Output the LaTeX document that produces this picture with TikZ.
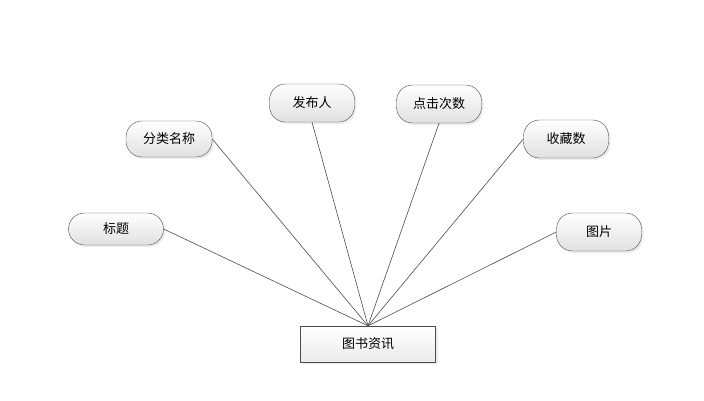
\documentclass[tikz,border=0pt]{standalone}
\usepackage{fontspec}
\setmainfont{Noto Sans CJK SC}
\usetikzlibrary{shadows}
\begin{document}
\begin{tikzpicture}[x=1pt,y=-1pt,
  pill/.style={draw=black!70,rounded corners=16pt,minimum width=88pt,minimum height=36pt,
    top color=white,bottom color=black!12,drop shadow={shadow xshift=2pt,shadow yshift=-2pt,fill=black!15},font=\fontsize{13pt}{15pt}\selectfont,inner sep=0pt},
  ent/.style={draw=black!70,minimum width=135pt,minimum height=36pt,top color=white,bottom color=black!8,
    drop shadow={shadow xshift=2pt,shadow yshift=-2pt,fill=black!15},font=\fontsize{13pt}{15pt}\selectfont},
  link/.style={draw=black!70,line width=0.6pt}]
\useasboundingbox (0,0) rectangle (704,400);
\node[pill,minimum width=95pt,minimum height=32pt] (t) at (116,229) {标题};
\node[pill,minimum width=86pt] (c) at (169,139) {分类名称};
\node[pill,minimum width=85pt,minimum height=38pt] (p) at (312,103) {发布人};
\node[pill,minimum width=85pt,minimum height=38pt] (k) at (439,104) {点击次数};
\node[pill,minimum width=85pt,minimum height=38pt] (s) at (566,139) {收藏数};
\node[pill,minimum width=85pt,minimum height=38pt] (i) at (599,232) {图片};
\node[ent] (m) at (368,344) {图书资讯};
\draw[link] (t.east) -- (m.north);
\draw[link] (c.east) -- (m.north);
\draw[link] (p.south) -- (m.north);
\draw[link] (k.south) -- (m.north);
\draw[link] (s.west) -- (m.north);
\draw[link] (i.west) -- (m.north);
\end{tikzpicture}
\end{document}
